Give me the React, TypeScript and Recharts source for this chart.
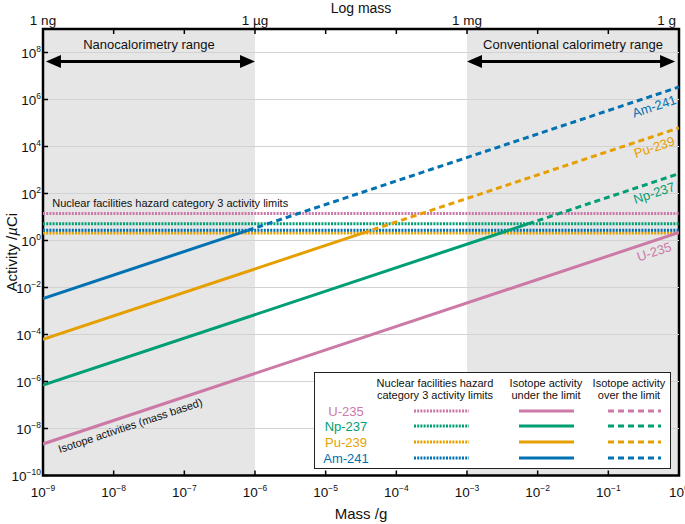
import React from "react";
import {
  LineChart,
  Line,
  XAxis,
  YAxis,
  ReferenceArea,
  ReferenceLine,
  ReferenceDot,
} from "recharts";

const FONT = '"Liberation Sans", Arial, Helvetica, sans-serif';

// isotopes in legend order
const isotopes = ["U-235", "Np-237", "Pu-239", "Am-241"];
const colors = ["#CC79A7", "#009E73", "#E69F00", "#0072B2"];
// activity (µCi) at 1 ng and at 1 g
const activityAt1ng = [2.2e-9, 7.0e-7, 6.2e-5, 3.4e-3];
const activityAt1g = [2.2, 7.0e2, 6.2e4, 3.4e6];
// hazard category 3 activity limits (µCi)
const hazardLimits = [14, 5.1, 2.1, 2.7];
// mass (g) where the activity line crosses its limit, null = never
const crossingMass = [null, 7.3e-3, 3.4e-5, 7.9e-7];

// shaded calorimetry ranges (g)
const nanoRange = [1e-9, 1e-6];
const conventionalRange = [1e-3, 1];

const massTicks = [1e-9, 1e-8, 1e-7, 1e-6, 1e-5, 1e-4, 1e-3, 1e-2, 1e-1, 1];
const topTickLabels = ["1 ng", "", "", "1 µg", "", "", "1 mg", "", "", "1 g"];
const activityTicks = [1e-10, 1e-8, 1e-6, 1e-4, 1e-2, 1, 1e2, 1e4, 1e6, 1e8];
const gridValues = [1e-8, 1e-6, 1e-4, 1e-2, 1, 1e2, 1e4, 1e6, 1e8];

const X_DOMAIN = [1e-9, 1];
const Y_DOMAIN = [1e-10, 1e9];
const SLOPE_DEG = 18.4;

const segments = isotopes.map((name, i) => {
  const start = { mass: X_DOMAIN[0], activity: activityAt1ng[i] };
  const end = { mass: X_DOMAIN[1], activity: activityAt1g[i] };
  const cross = crossingMass[i];
  if (cross == null) return { name, color: colors[i], under: [start, end], over: [] as any[] };
  const mid = { mass: cross, activity: hazardLimits[i] };
  return { name, color: colors[i], under: [start, mid], over: [mid, end] };
});

const exponent = (v: number) => {
  const e = Math.round(Math.log10(v));
  return e < 0 ? "\u2212" + Math.abs(e) : String(e);
};

const BottomTick = (p: any) => {
  const { x, y, payload } = p;
  return (
    <g>
      <line x1={x} x2={x} y1={y} y2={y - 5} stroke="#000" strokeWidth={1.5} />
      <text x={x} y={y + 21} textAnchor="middle" fontFamily={FONT} fontSize={13.5} fill="#111">
        10<tspan dy={-6} fontSize={8.5}>{exponent(payload.value)}</tspan>
      </text>
    </g>
  );
};

const TopTick = (p: any) => {
  const { x, y, index } = p;
  const label = topTickLabels[index] || "";
  const last = index === topTickLabels.length - 1;
  return (
    <g>
      <line x1={x} x2={x} y1={y} y2={y + 5} stroke="#000" strokeWidth={1.5} />
      {label && (
        <text x={last ? x - 3 : x} y={y - 4} textAnchor={last ? "end" : "middle"} fontFamily={FONT} fontSize={13.5} fill="#111">
          {label}
        </text>
      )}
    </g>
  );
};

const LeftTick = (p: any) => {
  const { x, y, payload } = p;
  return (
    <g>
      <line x1={x} x2={x + 5} y1={y} y2={y} stroke="#000" strokeWidth={1.5} />
      <text x={x - 2} y={y + 5} textAnchor="end" fontFamily={FONT} fontSize={13.5} fill="#111">
        10<tspan dy={-6} fontSize={8.5}>{exponent(payload.value)}</tspan>
      </text>
    </g>
  );
};

const arrowShape = (p: any) => {
  const { x1, y1, x2 } = p;
  const left = Math.min(x1, x2);
  const right = Math.max(x1, x2);
  const y = y1;
  const L = 15;
  const H = 6.5;
  return (
    <g>
      <line x1={left + L - 2} y1={y} x2={right - L + 2} y2={y} stroke="#000" strokeWidth={3} />
      <polygon points={`${left},${y} ${left + L},${y - H} ${left + L},${y + H}`} fill="#000" />
      <polygon points={`${right},${y} ${right - L},${y - H} ${right - L},${y + H}`} fill="#000" />
    </g>
  );
};

const textShape =
  (text: string, opts: { size: number; color?: string; anchor?: string; dy?: number; rotate?: number; baseline?: string }) =>
  (p: any) => {
    const { cx, cy } = p;
    return (
      <text
        x={cx}
        y={cy}
        dy={opts.dy || 0}
        transform={opts.rotate ? `rotate(${opts.rotate} ${cx} ${cy})` : undefined}
        textAnchor={opts.anchor || "middle"}
        dominantBaseline={opts.baseline}
        fontFamily={FONT}
        fontSize={opts.size}
        fill={opts.color || "#111"}
      >
        {text}
      </text>
    );
  };

const LABEL_MASS = 0.4;

function Legend() {
  const rows = [38, 53, 69, 85];
  return (
    <div
      style={{
        position: "absolute",
        left: 314,
        top: 372,
        width: 357,
        height: 97,
        border: "1.5px solid #222",
        background: "#fff",
        boxSizing: "border-box",
      }}
    >
      <svg width={354} height={94} style={{ position: "absolute", left: 0, top: 0 }}>
        <g fontFamily={FONT} fontSize={11} fill="#111" textAnchor="middle">
          <text x={120} y={14}>Nuclear facilities hazard</text>
          <text x={120} y={26}>category 3 activity limits</text>
          <text x={231} y={14}>Isotope activity</text>
          <text x={231} y={26}>under the limit</text>
          <text x={314} y={14}>Isotope activity</text>
          <text x={314} y={26}>over the limit</text>
        </g>
        {isotopes.map((name, i) => (
          <g key={name}>
            <text x={31} y={rows[i] + 4.5} textAnchor="middle" fontFamily={FONT} fontSize={13} fill={colors[i]}>
              {name}
            </text>
            <line x1={99} x2={154} y1={rows[i]} y2={rows[i]} stroke={colors[i]} strokeWidth={3} strokeDasharray="2 1.2" />
            <line x1={204} x2={259} y1={rows[i]} y2={rows[i]} stroke={colors[i]} strokeWidth={3} />
            <line x1={293} x2={346} y1={rows[i]} y2={rows[i]} stroke={colors[i]} strokeWidth={3} strokeDasharray="6 4" />
          </g>
        ))}
      </svg>
    </div>
  );
}

export default function App() {
  return (
    <div style={{ position: "absolute", left: 0, top: 0, width: 685, height: 524, background: "#fff" }}>
      <LineChart width={685} height={524} margin={{ top: 0, right: 6, bottom: 0, left: 0 }}>
        <XAxis
          dataKey="mass"
          type="number"
          scale="log"
          domain={X_DOMAIN}
          allowDataOverflow
          ticks={massTicks}
          interval={0}
          height={48.5}
          tickSize={0}
          tickMargin={0}
          axisLine={false}
          tickLine={false}
          tick={BottomTick}
          label={(p: any) => {
            const vb = p.viewBox || {};
            return (
              <text x={vb.x + vb.width / 2} y={vb.y + vb.height - 5} textAnchor="middle" fontFamily={FONT} fontSize={15} fill="#111">
                Mass /g
              </text>
            );
          }}
        />
        <XAxis
          xAxisId="top"
          orientation="top"
          dataKey="mass"
          type="number"
          scale="log"
          domain={X_DOMAIN}
          allowDataOverflow
          ticks={massTicks}
          interval={0}
          height={29}
          tickSize={0}
          tickMargin={0}
          axisLine={false}
          tickLine={false}
          tick={TopTick}
          label={(p: any) => {
            const vb = p.viewBox || {};
            return (
              <text x={vb.x + vb.width / 2} y={vb.y + 13} textAnchor="middle" fontFamily={FONT} fontSize={14} fill="#111">
                Log mass
              </text>
            );
          }}
        />
        <YAxis
          type="number"
          scale="log"
          domain={Y_DOMAIN}
          allowDataOverflow
          ticks={activityTicks}
          interval={0}
          width={43}
          tickSize={0}
          tickMargin={0}
          axisLine={false}
          tickLine={false}
          tick={LeftTick}
          label={(p: any) => {
            const vb = p.viewBox || {};
            const cx = 11;
            const cy = vb.y + vb.height / 2;
            return (
              <text x={cx} y={cy} transform={`rotate(-90 ${cx} ${cy})`} textAnchor="middle" dominantBaseline="central" fontFamily={FONT} fontSize={15} fill="#111">
                Activity /<tspan fontStyle="italic">µ</tspan>Ci
              </text>
            );
          }}
        />

        <ReferenceArea x1={nanoRange[0]} x2={nanoRange[1]} y1={Y_DOMAIN[0]} y2={Y_DOMAIN[1]} fill="#e6e6e6" fillOpacity={1} stroke="none" />
        <ReferenceArea x1={conventionalRange[0]} x2={conventionalRange[1]} y1={Y_DOMAIN[0]} y2={Y_DOMAIN[1]} fill="#e6e6e6" fillOpacity={1} stroke="none" />

        {gridValues.map((v) => (
          <ReferenceLine key={"g" + v} y={v} stroke="#d2d2d2" strokeWidth={1} />
        ))}

        {isotopes.map((name, i) => (
          <ReferenceLine key={"lim" + name} y={hazardLimits[i]} stroke={colors[i]} strokeWidth={3} strokeDasharray="2 1.2" />
        ))}

        {segments.map((s) => (
          <Line
            key={"u" + s.name}
            data={s.under}
            dataKey="activity"
            type="linear"
            stroke={s.color}
            strokeWidth={3}
            dot={false}
            activeDot={false}
            isAnimationActive={false}
          />
        ))}
        {segments
          .filter((s) => s.over.length)
          .map((s) => (
            <Line
              key={"o" + s.name}
              data={s.over}
              dataKey="activity"
              type="linear"
              stroke={s.color}
              strokeWidth={3}
              strokeDasharray="6 4"
              dot={false}
              activeDot={false}
              isAnimationActive={false}
            />
          ))}

        <ReferenceLine segment={[{ x: 1.1e-9, y: 10 ** 7.62 }, { x: nanoRange[1], y: 10 ** 7.62 }]} shape={arrowShape} />
        <ReferenceLine segment={[{ x: conventionalRange[0], y: 10 ** 7.62 }, { x: 0.88, y: 10 ** 7.62 }]} shape={arrowShape} />

        <ReferenceDot x={10 ** -7.5} y={10 ** 8.33} r={0} shape={textShape("Nanocalorimetry range", { size: 13, baseline: "central" })} />
        <ReferenceDot x={10 ** -1.5} y={10 ** 8.33} r={0} shape={textShape("Conventional calorimetry range", { size: 13, baseline: "central" })} />
        <ReferenceDot
          x={1.35e-9}
          y={27}
          r={0}
          shape={textShape("Nuclear facilities hazard category 3 activity limits", { size: 11, anchor: "start" })}
        />
        <ReferenceDot
          x={1.5e-9}
          y={activityAt1ng[0] * 1.5}
          r={0}
          shape={textShape("Isotope activities (mass based)", { size: 11, anchor: "start", dy: 14, rotate: -SLOPE_DEG })}
        />
        {isotopes.map((name, i) => (
          <ReferenceDot
            key={"lbl" + name}
            x={LABEL_MASS}
            y={activityAt1g[i] * LABEL_MASS}
            r={0}
            shape={textShape(name, { size: 13, color: colors[i], dy: 15, rotate: -SLOPE_DEG })}
          />
        ))}

        <ReferenceArea x1={X_DOMAIN[0]} x2={X_DOMAIN[1]} y1={Y_DOMAIN[0]} y2={Y_DOMAIN[1]} fill="none" fillOpacity={0} stroke="#000" strokeWidth={2.5} />
      </LineChart>
      <Legend />
    </div>
  );
}
